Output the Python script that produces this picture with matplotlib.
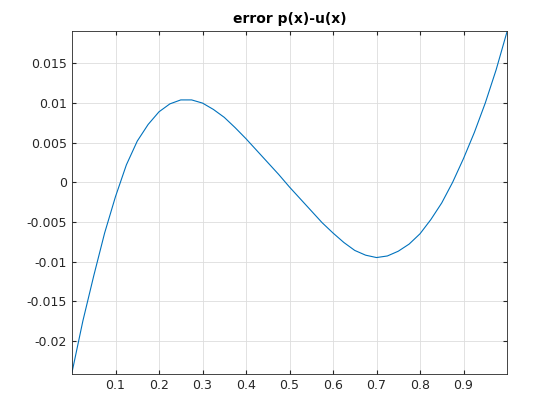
import matplotlib
matplotlib.use("Agg")
import matplotlib.pyplot as plt

x = [0, 0.025, 0.05, 0.075, 0.1, 0.125, 0.15, 0.175, 0.2, 0.225, 0.25, 0.275, 0.3, 0.325, 0.35, 0.375, 0.4, 0.425, 0.45, 0.475, 0.5,
     0.525, 0.55, 0.575, 0.6, 0.625, 0.65, 0.675, 0.7, 0.725, 0.75, 0.775, 0.8, 0.825, 0.85, 0.875, 0.9, 0.925, 0.95, 0.975, 1.0]
err = [-0.0240, -0.0175, -0.0118, -0.0064, -0.0018, 0.0022, 0.0052, 0.0073, 0.0089, 0.0099, 0.0104, 0.0104, 0.0100, 0.0092, 0.0082,
       0.0069, 0.0055, 0.0040, 0.0025, 0.0010, -0.0006, -0.0021, -0.0036, -0.0051, -0.0064, -0.0076, -0.0086, -0.0092, -0.0095,
       -0.0093, -0.0087, -0.0078, -0.0065, -0.0047, -0.0026, 0.0000, 0.0030, 0.0063, 0.0100, 0.0142, 0.0190]
xticks = [0.1, 0.2, 0.3, 0.4, 0.5, 0.6, 0.7, 0.8, 0.9]
yticks = [-0.02, -0.015, -0.01, -0.005, 0, 0.005, 0.01, 0.015]
ylabels = ["-0.02", "-0.015", "-0.01", "-0.005", "0", "0.005", "0.01", "0.015"]

fig = plt.figure(figsize=(5.6, 4.2), dpi=100)
ax = fig.add_axes([72/560, 1-374/420, 435/560, 343/420])
ax.plot(x, err, color="#0072BD", lw=0.8)
ax.set_xlim(0, 1)
ax.set_ylim(-0.0242, 0.0191)
ax.set_xticks(xticks)
ax.set_xticklabels([str(t) for t in xticks])
ax.set_yticks(yticks)
ax.set_yticklabels(ylabels)
ax.grid(True, color="#dddddd", lw=0.6)
ax.tick_params(labelsize=9, direction="in", length=3, colors="#262626", top=True, right=True)
for s in ax.spines.values():
    s.set_color("#262626"); s.set_linewidth(0.6)
ax.set_title("error p(x)-u(x)", fontsize=10, fontweight="bold", color="#000")
fig.savefig("out.png", dpi=100, facecolor="white")
